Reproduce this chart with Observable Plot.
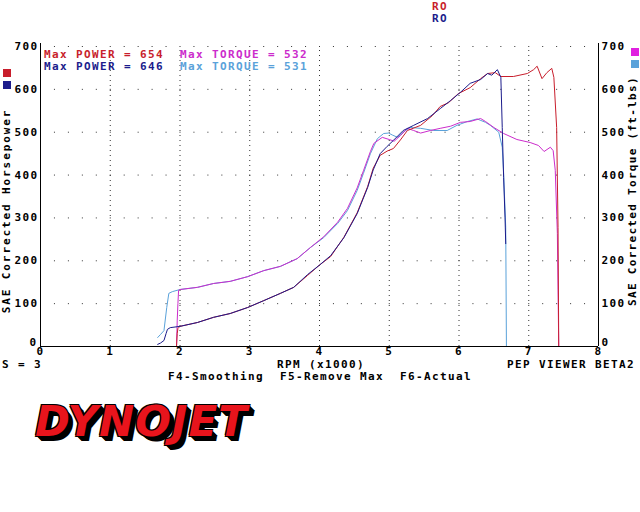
<!DOCTYPE html>
<html><head><meta charset="utf-8">
<script src="https://cdn.jsdelivr.net/npm/d3@7"></script>
<script src="https://cdn.jsdelivr.net/npm/@observablehq/plot@0.6"></script>
<style>
body{margin:0;background:#fff;}
#wrap{position:relative;width:640px;height:512px;overflow:hidden;background:#fff;}
#wrap svg{position:absolute;left:0;top:0;}
.t{position:absolute;font:bold 11px "DejaVu Sans Mono",monospace;letter-spacing:1.38px;line-height:12px;white-space:pre;color:#000;}
.sq{position:absolute;width:8px;height:8px;}
.rot{position:absolute;transform:translate(-50%,-50%) rotate(-90deg);}
.logo{position:absolute;left:35px;top:397px;font:italic bold 42px "DejaVu Sans",sans-serif;color:#e8141c;letter-spacing:1px;white-space:pre;
text-shadow:-1px -1px 0 #000,1px -1px 0 #000,-1px 1px 0 #000,1px 1px 0 #000,2px 2px 0 #000,3px 3px 0 #000,4px 4px 0 #000,5px 5px 0 #000;}
</style></head><body><div id="wrap"></div>
<script>
// ---- data ----
const xTicks = [0, 1, 2, 3, 4, 5, 6, 7, 8];
const yTicks = [100, 200, 300, 400, 500, 600, 700];
const gridX = [1, 2, 3, 4, 5, 6, 7];
const gridY = [100, 200, 300, 400, 500, 600, 700];
const runNames = ["RO", "RO"];
const maxPower = [654, 646];
const maxTorque = [532, 531];
const smoothing = 3;

// run 1 (red power, magenta torque): [rpm x1000, value]
const run1Power = [[1.95,0],[1.96,30],[1.97,42],[2.0,47],[2.25,56],[2.48,68],[2.72,77],[2.97,91],[3.2,107],[3.44,124],[3.63,138],[3.83,166],[4.0,190],[4.16,210],[4.35,255],[4.54,312],[4.69,373],[4.77,416],[4.87,446],[4.97,456],[5.06,462],[5.16,482],[5.26,504],[5.45,516],[5.62,539],[5.73,560],[5.85,569],[5.99,590],[6.16,604],[6.31,625],[6.41,637],[6.52,639],[6.6,630],[6.78,630],[6.98,637],[7.07,646],[7.12,654],[7.19,625],[7.26,639],[7.33,649],[7.36,628],[7.40,511],[7.42,278],[7.43,0]];
const run1Torque = [[1.95,0],[1.96,60],[1.97,100],[1.98,131],[2.0,133],[2.25,138],[2.48,147],[2.72,152],[2.97,163],[3.2,177],[3.44,187],[3.68,205],[3.87,231],[4.06,256],[4.26,290],[4.4,322],[4.54,370],[4.63,410],[4.73,455],[4.78,474],[4.9,488],[5.0,483],[5.07,479],[5.16,492],[5.26,509],[5.35,504],[5.45,498],[5.59,504],[5.73,509],[5.88,514],[6.02,523],[6.16,525],[6.31,532],[6.38,525],[6.5,511],[6.64,497],[6.83,483],[7.02,476],[7.14,469],[7.22,455],[7.31,465],[7.35,457],[7.38,411],[7.41,264],[7.43,0]];
// run 2 (navy power, light blue torque)
const run2Power = [[1.68,5],[1.72,8],[1.77,14],[1.8,30],[1.82,40],[1.86,44],[2.0,47],[2.25,56],[2.48,68],[2.72,77],[2.97,91],[3.2,107],[3.44,124],[3.63,138],[3.83,168],[4.0,190],[4.16,212],[4.35,254],[4.54,310],[4.69,371],[4.77,412],[4.87,450],[4.97,467],[5.06,481],[5.2,504],[5.35,516],[5.55,532],[5.73,555],[5.88,574],[6.02,593],[6.16,614],[6.31,623],[6.41,637],[6.47,633],[6.55,646],[6.6,628],[6.62,511],[6.64,394],[6.66,300],[6.67,240]];
const run2Torque = [[1.68,21],[1.72,28],[1.77,37],[1.81,91],[1.84,124],[1.89,128],[2.0,133],[2.25,138],[2.48,147],[2.72,152],[2.97,163],[3.2,177],[3.44,187],[3.68,205],[3.87,231],[4.06,254],[4.26,287],[4.4,317],[4.54,364],[4.63,404],[4.73,450],[4.83,485],[4.92,497],[4.99,498],[5.05,493],[5.12,488],[5.2,500],[5.3,511],[5.45,509],[5.64,504],[5.83,504],[5.97,516],[6.12,525],[6.26,531],[6.38,523],[6.45,516],[6.57,500],[6.62,465],[6.64,404],[6.67,278],[6.68,0]];

const C = {red:"#c81e2c", mag:"#cc2ccc", navy:"#1c1c8c", blue:"#5aa2da"};

const fontOpts = {fontFamily:"DejaVu Sans Mono", fontSize:11, fontWeight:"bold", fill:"#000"};
const chart = Plot.plot({
  width: 640, height: 390,
  marginLeft: 40, marginRight: 42, marginTop: 46, marginBottom: 44,
  x: {domain: [0, 8]},
  y: {domain: [0, 700]},
  style: {fontFamily: "DejaVu Sans Mono", fontSize: "11px", fontWeight: "bold", letterSpacing: "1.38px", background: "transparent", color: "#000", overflow: "visible"},
  marks: [
    Plot.ruleY(gridY, {stroke: "#333", strokeDasharray: "1,12.95"}),
    Plot.ruleX(gridX, {y1: 0, y2: 700, stroke: "#333", strokeDasharray: "1,4"}),
    Plot.line(run2Torque, {x: "0", y: "1", stroke: C.blue, strokeWidth: 1}),
    Plot.line(run1Torque, {x: "0", y: "1", stroke: C.mag, strokeWidth: 1}),
    Plot.line(run1Power, {x: "0", y: "1", stroke: C.red, strokeWidth: 1}),
    Plot.line(run2Power, {x: "0", y: "1", stroke: C.navy, strokeWidth: 1}),
    Plot.ruleX([0, 8], {y1: 0, y2: 707, stroke: "#000"}),
    Plot.ruleY([0], {stroke: "#000"}),
    Plot.axisY(yTicks, {anchor: "left", tickSize: 0, tickPadding: 2, label: null, ...fontOpts}),
    Plot.axisY([0], {anchor: "left", tickSize: 0, tickPadding: 3, dy: -4, label: null, ...fontOpts}),
    Plot.axisY(yTicks, {anchor: "right", tickSize: 0, tickPadding: 3, label: null, ...fontOpts}),
    Plot.axisY([0], {anchor: "right", tickSize: 0, tickPadding: 3, dy: -4, label: null, ...fontOpts}),
    Plot.axisX(xTicks, {anchor: "bottom", tickSize: 0, tickPadding: 1, label: null, ...fontOpts})
  ]
});
const wrap = document.getElementById("wrap");
wrap.appendChild(chart);

function txt(s, left, top, color, cls="t") {
  const d = document.createElement("div");
  d.className = cls; d.textContent = s;
  d.style.left = left + "px"; d.style.top = top + "px";
  if (color) d.style.color = color;
  wrap.appendChild(d); return d;
}
function sq(left, top, color) {
  const d = document.createElement("div");
  d.className = "sq"; d.style.left = left + "px"; d.style.top = top + "px"; d.style.background = color;
  wrap.appendChild(d);
}
txt(runNames[0], 432, 1, C.red);
txt(runNames[1], 432, 13, C.navy);
txt(`Max POWER = ${maxPower[0]}`, 44, 49, C.red);
txt(`Max TORQUE = ${maxTorque[0]}`, 180, 49, C.mag);
txt(`Max POWER = ${maxPower[1]}`, 44, 61, C.navy);
txt(`Max TORQUE = ${maxTorque[1]}`, 180, 61, C.blue);
sq(3, 69, C.red); sq(3, 81, C.navy);
sq(631, 48, "#e020e0"); sq(631, 60, C.blue);
txt(`S = ${smoothing}`, 2, 359);
txt("RPM (x1000)", 277, 359);
txt("PEP VIEWER BETA2", 507, 359);
txt("F4-Smoothing  F5-Remove Max  F6-Actual", 168, 371);
const l = txt("SAE Corrected Horsepower", 0, 0);
l.classList.add("rot"); l.style.left = "7px"; l.style.top = "211px"; l.style.letterSpacing = "1.9px";
const r = txt("SAE Corrected Torque (ft-lbs)", 0, 0);
r.classList.add("rot"); r.style.left = "633px"; r.style.top = "191px"; r.style.letterSpacing = "1.3px";
txt("DYNOJET", 35, 397, null, "logo");
</script>
</body></html>
